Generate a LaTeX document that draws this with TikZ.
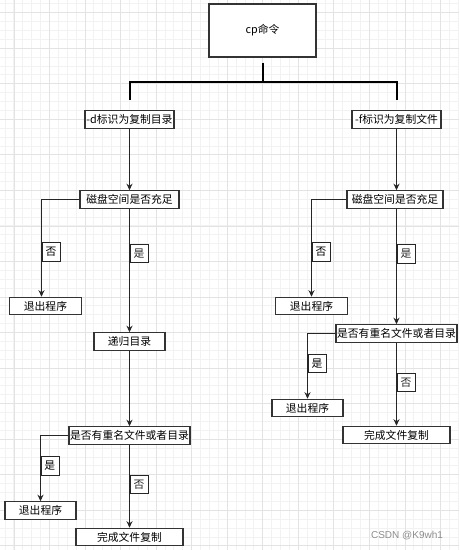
\documentclass[tikz,border=0pt]{standalone}
\usepackage{fontspec}
\newfontfamily\cjk{Noto Sans CJK SC}
\setmainfont{Liberation Sans}
\usepackage{xcolor}
\usetikzlibrary{arrows.meta, positioning, calc}

\begin{document}
\begin{tikzpicture}[x=1pt, y=-1pt,
    blk/.style={draw=black!80, line width=1.1pt, fill=white, minimum height=17.5pt,
        inner xsep=1pt, inner ysep=0pt, font=\cjk\fontsize{10.8}{12}\selectfont},
    lbl/.style={draw=black!85, line width=0.8pt, fill=white, anchor=west, minimum width=18pt,
        minimum height=18.5pt, inner sep=0pt, font=\cjk\fontsize{10.8}{12}\selectfont},
    trunk/.style={line width=2pt, black},
    flow/.style={line width=1.1pt, black!85, -{Stealth[length=6.5pt, width=6pt]}},
    minorgrid/.style={black!5, line width=1pt},
    majorgrid/.style={black!11, line width=1.3pt}]
    \useasboundingbox (0,0) rectangle (459,550);
    \fill[white] (0,0) rectangle (459,550);
    \foreach \k in {0,...,51} \draw[minorgrid] ({floor(5.11+8.8875*\k)+0.5},0) -- ({floor(5.11+8.8875*\k)+0.5},550);
    \foreach \k in {0,...,61} \draw[minorgrid] (0,{floor(3.81+8.8875*\k)+0.5}) -- (459,{floor(3.81+8.8875*\k)+0.5});
    \foreach \k in {0,...,12} \draw[majorgrid] ({floor(14+35.55*\k)+0.5},0) -- ({floor(14+35.55*\k)+0.5},550);
    \foreach \k in {0,...,15} \draw[majorgrid] (0,{floor(12.7+35.55*\k)+0.5}) -- (459,{floor(12.7+35.55*\k)+0.5});

    \node[blk, minimum width=107pt, minimum height=53pt] (cmd) at (262.5,30.5) {cp命令};
    \node[blk, minimum width=89pt] (dirflag) at (129.5,119.5) {-d标识为复制目录};
    \node[blk, minimum width=89pt] (fileflag) at (396.5,119.5) {-f标识为复制文件};

    \node[blk, minimum width=99pt] (diskL) at (129.5,199.5) {磁盘空间是否充足};
    \node[blk, minimum width=72pt] (exitLa) at (45.5,306) {退出程序};
    \node[blk, minimum width=71pt] (recur) at (129.5,341.5) {递归目录};
    \node[blk, minimum width=121pt] (dupL) at (129.5,435.5) {是否有重名文件或者目录};
    \node[blk, minimum width=71pt] (exitLb) at (40.5,510.5) {退出程序};
    \node[blk, minimum width=107pt] (doneL) at (129.5,537) {完成文件复制};

    \node[blk, minimum width=96pt] (diskR) at (395,199.5) {磁盘空间是否充足};
    \node[blk, minimum width=72pt] (exitRa) at (311.5,306) {退出程序};
    \node[blk, minimum width=121pt] (dupR) at (396.5,333.5) {是否有重名文件或者目录};
    \node[blk, minimum width=71pt] (exitRb) at (307.5,408) {退出程序};
    \node[blk, minimum width=107pt] (doneR) at (396.5,435) {完成文件复制};

    \coordinate (fork) at ([yshift=-24pt]cmd.south);
    \draw[trunk] ([yshift=-5pt]cmd.south) -- (fork);
    \draw[trunk] (fork) -| ([yshift=10pt]dirflag.north);
    \draw[trunk] (fork) -| ([yshift=10pt]fileflag.north);

    \coordinate (inLa) at ([xshift=-4pt]exitLa.north);
    \draw[flow] (dirflag) -- (diskL);
    \draw[flow] (diskL.west) -| (inLa);
    \path (diskL.west -| inLa) -- (inLa) node[lbl, pos=0.54] {否};
    \draw[flow] (diskL) -- (recur) node[lbl, pos=0.36] {是};
    \draw[flow] (recur) -- (dupL);
    \draw[flow] (dupL.west) -| (exitLb.north);
    \path (dupL.west -| exitLb.north) -- (exitLb.north) node[lbl, pos=0.46] {是};
    \draw[flow] (dupL) -- (doneL) node[lbl, pos=0.48] {否};

    \draw[flow] (fileflag.south) -- (fileflag.south |- diskR.north);
    \draw[flow] (diskR.west) -| (exitRa.north);
    \path (diskR.west -| exitRa.north) -- (exitRa.north) node[lbl, pos=0.54] {否};
    \draw[flow] (fileflag.south |- diskR.south) -- (fileflag.south |- dupR.north) node[lbl, pos=0.39] {是};
    \draw[flow] (dupR.west) -| (exitRb.north);
    \path (dupR.west -| exitRb.north) -- (exitRb.north) node[lbl, pos=0.46] {是};
    \draw[flow] (dupR) -- (doneR) node[lbl, pos=0.48] {否};

    \node[text=black!45, font=\fontsize{10}{12}\selectfont] (mark) at (407,536) {CSDN @K9wh1};
\end{tikzpicture}
\end{document}
